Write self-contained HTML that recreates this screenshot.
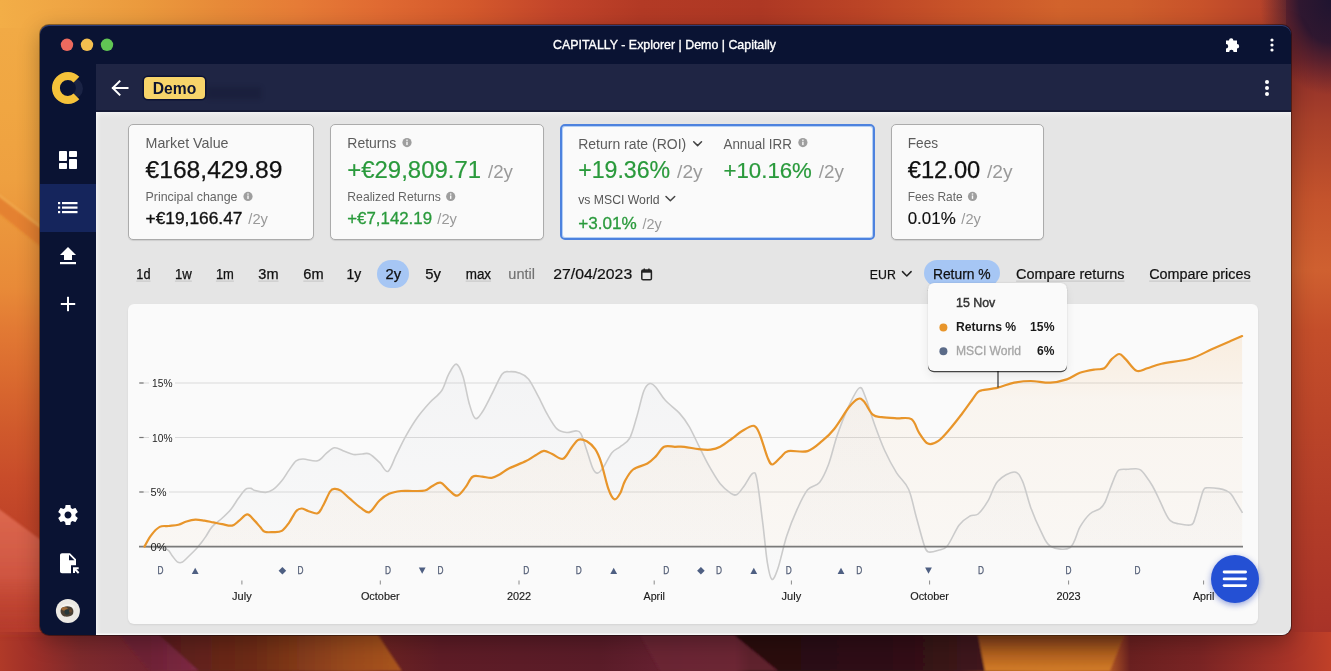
<!DOCTYPE html>
<html><head><meta charset="utf-8"><title>Capitally</title>
<style>
*{margin:0;padding:0;box-sizing:border-box}
html,body{width:1331px;height:671px;overflow:hidden}
body{position:relative;font-family:"Liberation Sans", sans-serif;background:#c04a2a}
.abs{position:absolute}
#bgtop{left:0;top:0;width:1331px;height:30px;background:linear-gradient(90deg,#f3ae47 0px,#eea343 80px,#eb9a3d 140px,#e78a38 220px,#e67b36 300px,#e06a32 380px,#d4592c 470px,#c2442a 560px,#b33a25 640px,#ae3824 760px,#bb4426 860px,#c95429 960px,#d2632c 1060px,#cf5f2c 1130px,#c8522a 1200px,#b8442a 1260px,#a83c2c 1331px)}
#bgleft{left:0;top:28px;width:45px;height:615px;background:linear-gradient(180deg,#f1aa45 0px,#f0a642 80px,#eea040 150px,#eb963c 200px,#e88a38 260px,#e27a34 300px,#da6a2f 350px,#d05a2c 400px,#c84c2a 450px,#c04428 490px,#bc4028 560px,#b63c2c 600px,#b23a2c 615px)}
#bgright{left:1286px;top:0;width:45px;height:671px;background:linear-gradient(180deg,#8a2c2a 0px,#8a2c2a 60px,#a8402a 120px,#c4532c 200px,#cf6030 270px,#c44e2a 330px,#bb4529 420px,#b23c28 520px,#aa3428 620px,#a03028 671px)}
#bgbot{left:0;top:632px;width:1331px;height:39px;background:linear-gradient(90deg,#b03a28 0px,#a03028 30px,#7e2a2c 80px,#722432 150px,#7a2840 175px,#5e1e1c 200px,#6a2a18 300px,#8a3c1a 360px,#6a2222 385px,#5e1c26 440px,#5a1c28 600px,#6a2234 690px,#6e2436 735px,#2e1012 750px,#34101a 880px,#451a1e 960px,#8a4a1c 985px,#c06a26 1050px,#a85024 1112px,#6a2020 1130px,#7a2424 1200px,#a83428 1290px,#c04028 1331px)}
#win{left:40px;top:25px;width:1251px;height:610px;border-radius:9px;overflow:hidden;background:#0a1333;box-shadow:0 0 0 1px rgba(0,0,0,.4),0 6px 22px rgba(0,0,0,.3),inset 0 1px 0 rgba(90,110,200,.45)}
#hdr{left:56px;top:39px;width:1195px;height:48px;background:#1f2544;border-bottom:2px solid #161b36}
#content{left:56px;top:87px;width:1195px;height:523px;background:linear-gradient(90deg,rgba(255,255,255,.55) 0,rgba(255,255,255,.25) 2px,rgba(255,255,255,0) 5px),linear-gradient(180deg,#f1f1f1 0,#e9e9e9 3px,#e5e5e5 7px);box-shadow:inset 0 -1.5px 0 rgba(255,255,255,.7)}
#sel{left:0;top:159px;width:56px;height:48px;background:#15255c}
.card{position:absolute;top:124px;height:116px;background:#fafafa;border:1px solid #ababab;border-radius:5px;box-shadow:0 1px 1px rgba(0,0,0,.10)}
#chart{left:128px;top:304px;width:1130px;height:320px;background:#fafafa;border-radius:6px;box-shadow:0 1px 2px rgba(0,0,0,.08)}
#pill2y{left:377px;top:259.5px;width:32px;height:28px;border-radius:16px;background:#a6c6f4}
#pillret{left:924px;top:260px;width:76px;height:26px;border-radius:13px;background:#a6c6f4}
#tip{left:928px;top:283px;width:139px;height:88px;background:#fafafa;border-radius:6px;box-shadow:0 1.2px 0.6px rgba(0,0,0,.7),0 0 2px rgba(0,0,0,.12),0 5px 10px rgba(0,0,0,.07)}
#fab{left:1211px;top:555px;width:48px;height:48px;border-radius:50%;background:#2450d4;box-shadow:0 2px 6px rgba(20,50,180,.45)}
#demo{left:144px;top:77px;width:61px;height:22px;border-radius:4px;background:#f7d46a;box-shadow:0 0 0 1.5px #0c1233}
#demoghost{left:207px;top:87px;width:54px;height:12px;background:rgba(10,14,40,.25);filter:blur(2px)}
svg{position:absolute;left:0;top:0}
</style></head>
<body>
<div class="abs" id="bgtop"></div>
<div class="abs" id="bgleft"></div>
<div class="abs" id="bgright"></div>
<div class="abs" id="bgbot"></div>
<svg width="1331" height="671" viewBox="0 0 1331 671" style="position:absolute;left:0;top:0">
<defs>
<linearGradient id="coral" x1="0" y1="510" x2="0" y2="640" gradientUnits="userSpaceOnUse"><stop offset="0" stop-color="#dc684e"/><stop offset="0.5" stop-color="#cf5642"/><stop offset="1" stop-color="#b63c30" stop-opacity="0"/></linearGradient>
<radialGradient id="tr" cx="1331" cy="0" r="95" gradientUnits="userSpaceOnUse" gradientTransform="translate(1331 0) scale(0.75 1) translate(-1331 0)"><stop offset="0" stop-color="#1f1430"/><stop offset="0.45" stop-color="#2a1630" stop-opacity="0.95"/><stop offset="1" stop-color="#4a1c2e" stop-opacity="0"/></radialGradient>
<linearGradient id="wA" x1="159" y1="0" x2="400" y2="0" gradientUnits="userSpaceOnUse"><stop offset="0" stop-color="#5a1c1c"/><stop offset="0.4" stop-color="#6e2c18"/><stop offset="0.8" stop-color="#9a4a1c"/><stop offset="1" stop-color="#a85420"/></linearGradient>
<linearGradient id="wC" x1="0" y1="635" x2="0" y2="671" gradientUnits="userSpaceOnUse"><stop offset="0" stop-color="#7a3a18"/><stop offset="0.5" stop-color="#b0601f"/><stop offset="1" stop-color="#d27c28"/></linearGradient>
<linearGradient id="wB" x1="734" y1="0" x2="985" y2="0" gradientUnits="userSpaceOnUse"><stop offset="0" stop-color="#2a0c10"/><stop offset="0.6" stop-color="#2e0f14"/><stop offset="1" stop-color="#40161c"/></linearGradient>
<linearGradient id="wD" x1="150" y1="0" x2="200" y2="0" gradientUnits="userSpaceOnUse"><stop offset="0" stop-color="#6e2236"/><stop offset="1" stop-color="#7e2a44"/></linearGradient>
<filter id="bl1" x="-20%" y="-20%" width="140%" height="140%"><feGaussianBlur stdDeviation="1.2"/></filter>
</defs>
<g filter="url(#bl1)">
<polygon points="-5,506 45,543 45,640 -5,640" fill="url(#coral)"/>
<polygon points="-5,194 45,232 45,250 -5,210" fill="#e27a2c" opacity="0.75"/>
<line x1="-5" y1="192" x2="45" y2="230" stroke="#f5b45a" stroke-width="1.6" opacity="0.6"/>
</g>
<g filter="url(#bl1)">
<polygon points="120,635 159,635 199,671 150,671" fill="url(#wD)"/>
<polygon points="159,635 378,635 402,671 199,671" fill="url(#wA)"/>
<polygon points="734,635 978,635 985,671 778,671" fill="url(#wB)"/>
<polygon points="640,635 734,635 778,671 660,671" fill="#6c2436" opacity="0.8"/>
<polygon points="978,635 1124,635 1110,671 985,671" fill="url(#wC)"/>
</g>
<rect x="1180" y="0" width="151" height="140" fill="url(#tr)"/>
</svg>
<div class="abs" id="win">
  <div class="abs" id="hdr"></div>
  <div class="abs" id="content"></div>
  <div class="abs" id="sel"></div>
</div>
<div class="abs" id="demoghost"></div>
<div class="abs" id="demo"></div>
<div class="card" style="left:128px;width:186px"></div>
<div class="card" style="left:330px;width:214px"></div>
<div class="card" style="left:560px;width:315px;border:2px solid #4d82de;box-shadow:inset 0 0 0 1px #b3cff5"></div>
<div class="card" style="left:891px;width:153px"></div>
<div class="abs" id="pill2y"></div>
<div class="abs" id="pillret"></div>
<div class="abs" id="chart"></div>
<svg width="1331" height="671" viewBox="0 0 1331 671" font-family="Liberation Sans, sans-serif">

<defs>
<linearGradient id="og" x1="0" y1="336" x2="0" y2="547" gradientUnits="userSpaceOnUse">
<stop offset="0" stop-color="#f0a040" stop-opacity="0.14"/><stop offset="0.2" stop-color="#f0a040" stop-opacity="0.095"/><stop offset="0.3" stop-color="#f0a040" stop-opacity="0.058"/><stop offset="1" stop-color="#f0a040" stop-opacity="0.035"/></linearGradient>
<linearGradient id="gg" x1="0" y1="364" x2="0" y2="580" gradientUnits="userSpaceOnUse">
<stop offset="0" stop-color="#b8bcc8" stop-opacity="0.10"/><stop offset="1" stop-color="#b8bcc8" stop-opacity="0.02"/></linearGradient>
</defs>
<g stroke="#dadada" stroke-width="1.1">
<line x1="139" y1="383" x2="1243" y2="383"/>
<line x1="139" y1="437.5" x2="1243" y2="437.5"/>
<line x1="139" y1="492" x2="1243" y2="492"/>
</g>
<path d="M144.5,546.6 C146.4,546.8 152.2,547.1 156.0,547.6 C159.8,548.1 164.8,548.5 167.5,549.8 C170.2,551.1 170.4,553.5 172.0,555.5 C173.6,557.5 175.6,560.7 177.3,561.8 C179.0,562.9 180.2,563.1 182.0,562.3 C183.8,561.5 185.7,559.2 188.0,557.0 C190.3,554.8 194.0,551.2 196.1,549.0 C198.2,546.8 199.0,545.7 200.6,543.6 C202.2,541.5 204.0,539.2 205.9,536.4 C207.8,533.6 209.5,529.7 212.2,526.6 C214.9,523.5 219.1,520.9 222.3,518.0 C225.5,515.1 228.5,512.3 231.2,509.0 C233.9,505.7 236.0,501.6 238.4,498.3 C240.8,495.0 243.4,491.0 245.5,489.3 C247.6,487.6 249.3,488.2 250.9,488.4 C252.5,488.6 252.5,489.9 255.0,490.6 C257.5,491.3 262.7,492.5 265.7,492.4 C268.7,492.2 270.2,491.6 272.9,489.7 C275.6,487.8 279.1,484.1 281.8,480.8 C284.5,477.5 286.6,473.4 289.0,470.1 C291.4,466.8 293.7,462.7 296.1,460.8 C298.5,458.9 299.7,459.0 303.3,459.0 C306.9,459.0 313.7,461.8 317.6,460.8 C321.5,459.8 323.7,455.3 326.5,453.1 C329.3,450.9 331.6,448.0 334.6,447.7 C337.6,447.4 341.3,450.2 344.4,451.3 C347.5,452.4 350.4,454.1 353.4,454.5 C356.4,454.9 359.6,454.1 362.3,454.0 C365.0,453.9 366.6,452.6 369.5,454.0 C372.4,455.4 376.4,459.5 379.5,462.4 C382.6,465.3 385.1,472.6 387.9,471.4 C390.7,470.2 393.2,461.1 396.2,455.2 C399.2,449.3 402.2,442.5 405.8,436.1 C409.4,429.7 413.7,422.6 417.7,417.0 C421.7,411.4 425.6,407.1 429.6,402.7 C433.6,398.3 438.4,395.6 441.6,390.8 C444.8,386.0 446.2,378.6 448.7,374.1 C451.1,369.7 453.9,363.7 456.3,364.1 C458.7,364.5 460.9,370.1 463.0,376.5 C465.1,382.9 467.0,395.8 469.0,402.7 C471.0,409.6 472.8,416.6 475.0,418.2 C477.2,419.8 479.3,416.3 482.1,412.3 C484.9,408.3 488.4,400.8 491.7,394.4 C495.0,388.0 499.3,377.9 502.2,374.1 C505.1,370.3 506.5,371.9 509.3,371.7 C512.1,371.5 515.7,371.7 518.9,372.9 C522.1,374.1 525.2,375.1 528.4,378.9 C531.6,382.7 534.7,389.7 537.9,395.6 C541.1,401.6 544.3,409.1 547.5,414.6 C550.7,420.2 553.8,425.9 557.0,428.9 C560.2,431.9 563.4,432.2 566.6,432.5 C569.8,432.8 573.7,430.7 576.1,430.9 C578.5,431.1 579.1,430.4 580.9,433.7 C582.7,436.9 584.8,444.6 586.8,450.4 C588.8,456.2 591.0,464.5 592.8,468.3 C594.6,472.1 595.8,473.3 597.6,473.1 C599.4,472.9 601.1,470.5 603.5,467.1 C605.9,463.7 609.1,456.2 611.9,452.8 C614.6,449.4 617.1,449.2 620.0,446.8 C622.9,444.4 626.7,443.5 629.5,438.5 C632.3,433.5 634.3,424.9 636.7,417.0 C639.1,409.1 641.7,396.4 643.9,390.8 C646.1,385.2 647.8,384.2 649.8,383.6 C651.8,383.0 653.2,384.4 655.8,387.2 C658.4,390.0 661.3,395.9 665.3,400.3 C669.3,404.7 675.6,409.0 679.6,413.4 C683.6,417.8 686.0,421.2 689.2,426.6 C692.4,432.0 695.5,439.2 698.7,445.6 C701.9,452.0 704.7,458.3 708.3,464.7 C711.9,471.1 716.4,479.0 720.2,483.8 C724.0,488.6 728.1,491.5 730.9,493.3 C733.7,495.1 734.7,495.7 736.9,494.5 C739.1,493.3 741.4,489.7 744.0,486.2 C746.6,482.7 750.4,474.6 752.5,473.5 C754.6,472.4 755.2,471.0 756.9,479.4 C758.6,487.8 761.1,510.2 762.9,524.1 C764.6,538.0 765.9,553.7 767.4,562.9 C768.9,572.1 770.1,578.3 771.8,579.3 C773.5,580.3 775.3,576.0 777.8,568.8 C780.3,561.6 783.5,545.9 786.7,536.0 C789.9,526.1 793.7,516.9 797.2,509.2 C800.7,501.5 803.9,494.3 807.6,489.8 C811.3,485.3 816.0,486.6 819.5,482.4 C823.0,478.2 825.5,472.4 828.5,464.5 C831.5,456.6 834.0,444.5 837.4,434.7 C840.8,424.9 845.2,413.6 848.9,405.8 C852.6,398.0 856.7,389.4 859.4,387.9 C862.1,386.4 862.8,390.8 865.3,396.8 C867.8,402.8 871.1,414.8 874.3,423.7 C877.5,432.6 881.0,442.3 884.7,450.5 C888.4,458.7 892.6,466.4 896.6,472.8 C900.6,479.2 905.4,482.0 908.6,489.2 C911.8,496.4 913.5,507.1 916.0,516.0 C918.5,525.0 921.5,536.9 923.5,542.9 C925.5,548.9 925.4,550.6 927.9,551.8 C930.4,553.0 935.2,551.3 938.4,550.3 C941.6,549.3 943.8,550.1 947.3,545.9 C950.8,541.7 955.4,530.0 959.2,525.0 C963.0,520.0 966.9,517.8 970.0,516.0 C973.1,514.2 975.1,516.5 978.1,514.0 C981.1,511.5 984.7,506.4 988.0,500.9 C991.3,495.4 993.4,486.0 997.8,481.2 C1002.2,476.4 1010.1,472.0 1014.2,472.0 C1018.3,472.0 1019.8,475.3 1022.5,481.2 C1025.2,487.1 1027.7,499.2 1030.7,507.4 C1033.7,515.6 1037.2,523.9 1040.5,530.4 C1043.8,536.9 1045.5,543.4 1050.4,546.2 C1055.3,549.1 1065.2,550.7 1070.1,547.5 C1075.0,544.3 1076.6,532.7 1079.9,527.1 C1083.2,521.5 1086.5,517.1 1089.8,514.0 C1093.1,510.9 1097.5,510.6 1100.0,508.7 C1102.5,506.8 1103.0,506.3 1104.8,502.7 C1106.6,499.1 1108.9,491.8 1110.7,487.2 C1112.5,482.6 1114.1,478.2 1115.5,475.3 C1116.9,472.4 1117.1,470.9 1119.1,469.9 C1121.1,468.9 1124.6,469.5 1127.4,469.3 C1130.2,469.1 1133.6,468.6 1135.8,468.7 C1138.0,468.8 1138.9,468.8 1140.5,469.9 C1142.1,471.0 1143.3,472.6 1145.3,475.3 C1147.3,478.0 1150.1,481.8 1152.5,486.0 C1154.9,490.2 1157.4,495.7 1159.6,500.3 C1161.8,504.9 1163.8,510.0 1165.6,513.4 C1167.4,516.8 1168.3,518.9 1170.3,520.6 C1172.3,522.3 1174.0,522.9 1177.5,523.6 C1181.0,524.3 1188.2,525.9 1191.2,524.8 C1194.2,523.7 1193.9,521.1 1195.4,517.0 C1196.9,512.9 1198.8,504.9 1200.2,500.3 C1201.6,495.7 1202.5,491.7 1203.7,489.6 C1204.9,487.5 1204.7,488.0 1207.3,487.8 C1209.9,487.6 1216.0,488.1 1219.2,488.6 C1222.4,489.1 1224.4,489.9 1226.4,490.8 C1228.4,491.8 1229.4,492.1 1231.2,494.3 C1233.0,496.5 1235.2,500.8 1237.1,503.9 C1239.0,507.0 1241.6,511.3 1242.5,512.8 L1242.1,546.5 L144.5,546.5 Z" fill="url(#gg)"/>
<path d="M144.5,546.6 C145.5,544.8 148.2,539.1 150.7,535.8 C153.2,532.5 156.7,528.5 159.7,526.9 C162.7,525.3 165.5,526.4 168.6,526.0 C171.7,525.6 175.4,525.5 178.4,524.7 C181.4,524.0 183.7,522.3 186.5,521.5 C189.3,520.7 192.4,519.9 195.4,519.7 C198.4,519.6 201.4,520.2 204.4,520.6 C207.4,521.0 210.3,521.8 213.3,522.4 C216.3,523.0 219.2,523.7 222.3,524.2 C225.4,524.7 229.3,526.2 232.1,525.6 C234.9,525.0 236.7,522.5 239.2,520.6 C241.7,518.7 244.8,514.4 247.3,514.4 C249.9,514.4 252.3,518.5 254.5,520.6 C256.7,522.8 258.7,525.4 260.4,527.3 C262.1,529.2 262.7,531.0 264.8,531.8 C266.9,532.6 270.1,532.2 272.9,532.1 C275.7,532.0 279.1,532.5 281.8,530.9 C284.5,529.3 286.6,526.1 289.0,522.8 C291.4,519.5 294.0,513.6 296.1,511.2 C298.2,508.8 299.4,508.5 301.5,508.5 C303.6,508.5 305.9,510.4 308.6,511.2 C311.3,512.0 315.2,514.2 317.6,513.3 C320.0,512.4 320.9,509.4 323.0,505.8 C325.1,502.2 328.2,494.3 330.1,491.5 C332.0,488.7 332.8,488.9 334.6,488.8 C336.4,488.7 338.3,489.0 340.8,490.6 C343.3,492.2 346.5,495.9 349.8,498.7 C353.1,501.5 357.2,505.4 360.5,507.6 C363.8,509.8 366.3,513.3 369.5,512.1 C372.7,510.9 376.2,503.6 379.5,500.5 C382.8,497.4 385.5,495.4 389.1,493.8 C392.7,492.2 397.0,491.5 401.0,491.0 C405.0,490.5 408.9,491.1 412.9,491.0 C416.9,490.9 421.7,491.3 424.9,490.5 C428.1,489.7 429.4,487.5 432.0,486.2 C434.6,484.9 437.6,482.0 440.4,482.6 C443.2,483.2 445.9,487.6 448.7,489.8 C451.5,492.0 454.3,496.1 457.1,495.7 C459.9,495.3 462.8,490.6 465.4,487.4 C468.0,484.2 469.8,478.5 472.6,476.7 C475.4,474.9 478.9,476.5 482.1,476.7 C485.3,476.9 488.7,478.2 491.7,477.8 C494.7,477.4 497.1,475.9 500.0,474.3 C502.9,472.7 505.0,470.5 509.3,468.3 C513.6,466.1 521.6,463.3 526.0,461.1 C530.4,458.9 532.6,456.9 535.6,455.2 C538.6,453.5 541.1,451.1 543.9,450.9 C546.7,450.7 549.0,452.7 552.2,454.0 C555.4,455.3 559.8,459.8 563.0,458.8 C566.2,457.8 568.7,451.2 571.3,448.0 C573.9,444.8 575.9,440.8 578.5,439.7 C581.1,438.6 584.0,439.7 586.8,441.3 C589.6,442.9 592.8,445.7 595.2,449.2 C597.6,452.7 598.9,455.7 601.1,462.3 C603.3,468.9 606.1,482.4 608.3,488.6 C610.5,494.8 612.3,498.5 614.3,499.3 C616.3,500.1 618.5,496.3 620.2,493.3 C622.0,490.3 622.6,485.4 624.8,481.4 C626.9,477.4 629.3,472.5 633.1,469.5 C636.9,466.5 643.6,465.7 647.4,463.5 C651.2,461.3 653.0,459.2 655.8,456.4 C658.6,453.6 660.9,448.4 664.1,446.8 C667.3,445.2 671.5,446.8 674.9,446.8 C678.3,446.8 680.4,446.4 684.4,446.8 C688.4,447.2 694.3,448.7 698.7,449.2 C703.1,449.7 707.0,450.1 710.6,449.7 C714.2,449.3 716.6,448.7 720.2,446.8 C723.8,444.9 728.5,441.1 732.1,438.5 C735.7,435.9 738.1,433.4 741.7,431.3 C745.3,429.2 750.9,425.2 753.9,425.8 C756.9,426.4 757.6,429.5 759.9,434.7 C762.1,439.9 765.3,452.1 767.4,457.1 C769.5,462.1 770.2,464.5 772.4,464.5 C774.6,464.5 778.2,459.3 780.8,457.1 C783.4,454.9 783.7,452.1 788.2,451.1 C792.7,450.1 801.9,452.8 807.6,451.1 C813.3,449.4 818.0,444.4 822.5,440.7 C827.0,437.0 830.0,434.3 834.4,428.7 C838.8,423.1 845.0,412.3 848.9,407.3 C852.8,402.3 855.4,399.9 857.9,398.9 C860.4,397.9 861.3,398.7 863.8,401.3 C866.3,403.9 869.8,412.1 872.8,414.7 C875.8,417.3 877.7,416.5 881.7,417.1 C885.7,417.7 891.6,418.0 896.6,418.3 C901.6,418.6 907.8,416.8 911.5,419.2 C915.2,421.6 916.3,428.5 919.0,432.6 C921.7,436.7 924.7,442.2 927.9,443.6 C931.1,445.0 934.7,443.4 938.4,440.9 C942.1,438.4 946.3,433.1 950.3,428.5 C954.3,423.9 958.6,418.2 962.2,413.5 C965.8,408.8 969.5,403.5 972.0,400.0 C974.5,396.5 975.8,394.1 977.5,392.5 C979.2,390.9 978.6,391.1 982.0,390.3 C985.4,389.5 992.4,388.9 997.8,387.6 C1003.2,386.3 1008.7,383.8 1014.2,382.7 C1019.7,381.6 1024.7,381.0 1030.7,381.0 C1036.7,381.0 1044.4,383.0 1050.4,382.7 C1056.4,382.4 1061.9,381.0 1066.8,379.4 C1071.7,377.8 1075.2,374.4 1079.9,372.8 C1084.6,371.2 1090.9,370.2 1095.0,369.5 C1099.1,368.8 1101.5,370.0 1104.3,368.3 C1107.0,366.6 1109.0,361.8 1111.5,359.4 C1114.0,357.0 1116.9,354.0 1119.3,354.0 C1121.7,354.0 1122.9,356.6 1125.8,359.4 C1128.7,362.2 1132.9,369.3 1136.5,370.8 C1140.1,372.3 1143.1,369.5 1147.3,368.3 C1151.5,367.1 1154.4,365.3 1161.6,363.7 C1168.8,362.1 1181.8,361.1 1190.2,358.7 C1198.6,356.3 1205.1,352.2 1211.7,349.3 C1218.3,346.4 1224.5,343.7 1229.6,341.5 C1234.7,339.3 1240.0,337.0 1242.1,336.1 L1242.1,546.5 L144.5,546.5 Z" fill="url(#og)"/>
<path d="M144.5,546.6 C146.4,546.8 152.2,547.1 156.0,547.6 C159.8,548.1 164.8,548.5 167.5,549.8 C170.2,551.1 170.4,553.5 172.0,555.5 C173.6,557.5 175.6,560.7 177.3,561.8 C179.0,562.9 180.2,563.1 182.0,562.3 C183.8,561.5 185.7,559.2 188.0,557.0 C190.3,554.8 194.0,551.2 196.1,549.0 C198.2,546.8 199.0,545.7 200.6,543.6 C202.2,541.5 204.0,539.2 205.9,536.4 C207.8,533.6 209.5,529.7 212.2,526.6 C214.9,523.5 219.1,520.9 222.3,518.0 C225.5,515.1 228.5,512.3 231.2,509.0 C233.9,505.7 236.0,501.6 238.4,498.3 C240.8,495.0 243.4,491.0 245.5,489.3 C247.6,487.6 249.3,488.2 250.9,488.4 C252.5,488.6 252.5,489.9 255.0,490.6 C257.5,491.3 262.7,492.5 265.7,492.4 C268.7,492.2 270.2,491.6 272.9,489.7 C275.6,487.8 279.1,484.1 281.8,480.8 C284.5,477.5 286.6,473.4 289.0,470.1 C291.4,466.8 293.7,462.7 296.1,460.8 C298.5,458.9 299.7,459.0 303.3,459.0 C306.9,459.0 313.7,461.8 317.6,460.8 C321.5,459.8 323.7,455.3 326.5,453.1 C329.3,450.9 331.6,448.0 334.6,447.7 C337.6,447.4 341.3,450.2 344.4,451.3 C347.5,452.4 350.4,454.1 353.4,454.5 C356.4,454.9 359.6,454.1 362.3,454.0 C365.0,453.9 366.6,452.6 369.5,454.0 C372.4,455.4 376.4,459.5 379.5,462.4 C382.6,465.3 385.1,472.6 387.9,471.4 C390.7,470.2 393.2,461.1 396.2,455.2 C399.2,449.3 402.2,442.5 405.8,436.1 C409.4,429.7 413.7,422.6 417.7,417.0 C421.7,411.4 425.6,407.1 429.6,402.7 C433.6,398.3 438.4,395.6 441.6,390.8 C444.8,386.0 446.2,378.6 448.7,374.1 C451.1,369.7 453.9,363.7 456.3,364.1 C458.7,364.5 460.9,370.1 463.0,376.5 C465.1,382.9 467.0,395.8 469.0,402.7 C471.0,409.6 472.8,416.6 475.0,418.2 C477.2,419.8 479.3,416.3 482.1,412.3 C484.9,408.3 488.4,400.8 491.7,394.4 C495.0,388.0 499.3,377.9 502.2,374.1 C505.1,370.3 506.5,371.9 509.3,371.7 C512.1,371.5 515.7,371.7 518.9,372.9 C522.1,374.1 525.2,375.1 528.4,378.9 C531.6,382.7 534.7,389.7 537.9,395.6 C541.1,401.6 544.3,409.1 547.5,414.6 C550.7,420.2 553.8,425.9 557.0,428.9 C560.2,431.9 563.4,432.2 566.6,432.5 C569.8,432.8 573.7,430.7 576.1,430.9 C578.5,431.1 579.1,430.4 580.9,433.7 C582.7,436.9 584.8,444.6 586.8,450.4 C588.8,456.2 591.0,464.5 592.8,468.3 C594.6,472.1 595.8,473.3 597.6,473.1 C599.4,472.9 601.1,470.5 603.5,467.1 C605.9,463.7 609.1,456.2 611.9,452.8 C614.6,449.4 617.1,449.2 620.0,446.8 C622.9,444.4 626.7,443.5 629.5,438.5 C632.3,433.5 634.3,424.9 636.7,417.0 C639.1,409.1 641.7,396.4 643.9,390.8 C646.1,385.2 647.8,384.2 649.8,383.6 C651.8,383.0 653.2,384.4 655.8,387.2 C658.4,390.0 661.3,395.9 665.3,400.3 C669.3,404.7 675.6,409.0 679.6,413.4 C683.6,417.8 686.0,421.2 689.2,426.6 C692.4,432.0 695.5,439.2 698.7,445.6 C701.9,452.0 704.7,458.3 708.3,464.7 C711.9,471.1 716.4,479.0 720.2,483.8 C724.0,488.6 728.1,491.5 730.9,493.3 C733.7,495.1 734.7,495.7 736.9,494.5 C739.1,493.3 741.4,489.7 744.0,486.2 C746.6,482.7 750.4,474.6 752.5,473.5 C754.6,472.4 755.2,471.0 756.9,479.4 C758.6,487.8 761.1,510.2 762.9,524.1 C764.6,538.0 765.9,553.7 767.4,562.9 C768.9,572.1 770.1,578.3 771.8,579.3 C773.5,580.3 775.3,576.0 777.8,568.8 C780.3,561.6 783.5,545.9 786.7,536.0 C789.9,526.1 793.7,516.9 797.2,509.2 C800.7,501.5 803.9,494.3 807.6,489.8 C811.3,485.3 816.0,486.6 819.5,482.4 C823.0,478.2 825.5,472.4 828.5,464.5 C831.5,456.6 834.0,444.5 837.4,434.7 C840.8,424.9 845.2,413.6 848.9,405.8 C852.6,398.0 856.7,389.4 859.4,387.9 C862.1,386.4 862.8,390.8 865.3,396.8 C867.8,402.8 871.1,414.8 874.3,423.7 C877.5,432.6 881.0,442.3 884.7,450.5 C888.4,458.7 892.6,466.4 896.6,472.8 C900.6,479.2 905.4,482.0 908.6,489.2 C911.8,496.4 913.5,507.1 916.0,516.0 C918.5,525.0 921.5,536.9 923.5,542.9 C925.5,548.9 925.4,550.6 927.9,551.8 C930.4,553.0 935.2,551.3 938.4,550.3 C941.6,549.3 943.8,550.1 947.3,545.9 C950.8,541.7 955.4,530.0 959.2,525.0 C963.0,520.0 966.9,517.8 970.0,516.0 C973.1,514.2 975.1,516.5 978.1,514.0 C981.1,511.5 984.7,506.4 988.0,500.9 C991.3,495.4 993.4,486.0 997.8,481.2 C1002.2,476.4 1010.1,472.0 1014.2,472.0 C1018.3,472.0 1019.8,475.3 1022.5,481.2 C1025.2,487.1 1027.7,499.2 1030.7,507.4 C1033.7,515.6 1037.2,523.9 1040.5,530.4 C1043.8,536.9 1045.5,543.4 1050.4,546.2 C1055.3,549.1 1065.2,550.7 1070.1,547.5 C1075.0,544.3 1076.6,532.7 1079.9,527.1 C1083.2,521.5 1086.5,517.1 1089.8,514.0 C1093.1,510.9 1097.5,510.6 1100.0,508.7 C1102.5,506.8 1103.0,506.3 1104.8,502.7 C1106.6,499.1 1108.9,491.8 1110.7,487.2 C1112.5,482.6 1114.1,478.2 1115.5,475.3 C1116.9,472.4 1117.1,470.9 1119.1,469.9 C1121.1,468.9 1124.6,469.5 1127.4,469.3 C1130.2,469.1 1133.6,468.6 1135.8,468.7 C1138.0,468.8 1138.9,468.8 1140.5,469.9 C1142.1,471.0 1143.3,472.6 1145.3,475.3 C1147.3,478.0 1150.1,481.8 1152.5,486.0 C1154.9,490.2 1157.4,495.7 1159.6,500.3 C1161.8,504.9 1163.8,510.0 1165.6,513.4 C1167.4,516.8 1168.3,518.9 1170.3,520.6 C1172.3,522.3 1174.0,522.9 1177.5,523.6 C1181.0,524.3 1188.2,525.9 1191.2,524.8 C1194.2,523.7 1193.9,521.1 1195.4,517.0 C1196.9,512.9 1198.8,504.9 1200.2,500.3 C1201.6,495.7 1202.5,491.7 1203.7,489.6 C1204.9,487.5 1204.7,488.0 1207.3,487.8 C1209.9,487.6 1216.0,488.1 1219.2,488.6 C1222.4,489.1 1224.4,489.9 1226.4,490.8 C1228.4,491.8 1229.4,492.1 1231.2,494.3 C1233.0,496.5 1235.2,500.8 1237.1,503.9 C1239.0,507.0 1241.6,511.3 1242.5,512.8" fill="none" stroke="#cbcbcb" stroke-width="1.6" stroke-linejoin="round"/>
<line x1="139" y1="546.6" x2="1243" y2="546.6" stroke="#7a7a7a" stroke-width="1.6"/>
<path d="M144.5,546.6 C145.5,544.8 148.2,539.1 150.7,535.8 C153.2,532.5 156.7,528.5 159.7,526.9 C162.7,525.3 165.5,526.4 168.6,526.0 C171.7,525.6 175.4,525.5 178.4,524.7 C181.4,524.0 183.7,522.3 186.5,521.5 C189.3,520.7 192.4,519.9 195.4,519.7 C198.4,519.6 201.4,520.2 204.4,520.6 C207.4,521.0 210.3,521.8 213.3,522.4 C216.3,523.0 219.2,523.7 222.3,524.2 C225.4,524.7 229.3,526.2 232.1,525.6 C234.9,525.0 236.7,522.5 239.2,520.6 C241.7,518.7 244.8,514.4 247.3,514.4 C249.9,514.4 252.3,518.5 254.5,520.6 C256.7,522.8 258.7,525.4 260.4,527.3 C262.1,529.2 262.7,531.0 264.8,531.8 C266.9,532.6 270.1,532.2 272.9,532.1 C275.7,532.0 279.1,532.5 281.8,530.9 C284.5,529.3 286.6,526.1 289.0,522.8 C291.4,519.5 294.0,513.6 296.1,511.2 C298.2,508.8 299.4,508.5 301.5,508.5 C303.6,508.5 305.9,510.4 308.6,511.2 C311.3,512.0 315.2,514.2 317.6,513.3 C320.0,512.4 320.9,509.4 323.0,505.8 C325.1,502.2 328.2,494.3 330.1,491.5 C332.0,488.7 332.8,488.9 334.6,488.8 C336.4,488.7 338.3,489.0 340.8,490.6 C343.3,492.2 346.5,495.9 349.8,498.7 C353.1,501.5 357.2,505.4 360.5,507.6 C363.8,509.8 366.3,513.3 369.5,512.1 C372.7,510.9 376.2,503.6 379.5,500.5 C382.8,497.4 385.5,495.4 389.1,493.8 C392.7,492.2 397.0,491.5 401.0,491.0 C405.0,490.5 408.9,491.1 412.9,491.0 C416.9,490.9 421.7,491.3 424.9,490.5 C428.1,489.7 429.4,487.5 432.0,486.2 C434.6,484.9 437.6,482.0 440.4,482.6 C443.2,483.2 445.9,487.6 448.7,489.8 C451.5,492.0 454.3,496.1 457.1,495.7 C459.9,495.3 462.8,490.6 465.4,487.4 C468.0,484.2 469.8,478.5 472.6,476.7 C475.4,474.9 478.9,476.5 482.1,476.7 C485.3,476.9 488.7,478.2 491.7,477.8 C494.7,477.4 497.1,475.9 500.0,474.3 C502.9,472.7 505.0,470.5 509.3,468.3 C513.6,466.1 521.6,463.3 526.0,461.1 C530.4,458.9 532.6,456.9 535.6,455.2 C538.6,453.5 541.1,451.1 543.9,450.9 C546.7,450.7 549.0,452.7 552.2,454.0 C555.4,455.3 559.8,459.8 563.0,458.8 C566.2,457.8 568.7,451.2 571.3,448.0 C573.9,444.8 575.9,440.8 578.5,439.7 C581.1,438.6 584.0,439.7 586.8,441.3 C589.6,442.9 592.8,445.7 595.2,449.2 C597.6,452.7 598.9,455.7 601.1,462.3 C603.3,468.9 606.1,482.4 608.3,488.6 C610.5,494.8 612.3,498.5 614.3,499.3 C616.3,500.1 618.5,496.3 620.2,493.3 C622.0,490.3 622.6,485.4 624.8,481.4 C626.9,477.4 629.3,472.5 633.1,469.5 C636.9,466.5 643.6,465.7 647.4,463.5 C651.2,461.3 653.0,459.2 655.8,456.4 C658.6,453.6 660.9,448.4 664.1,446.8 C667.3,445.2 671.5,446.8 674.9,446.8 C678.3,446.8 680.4,446.4 684.4,446.8 C688.4,447.2 694.3,448.7 698.7,449.2 C703.1,449.7 707.0,450.1 710.6,449.7 C714.2,449.3 716.6,448.7 720.2,446.8 C723.8,444.9 728.5,441.1 732.1,438.5 C735.7,435.9 738.1,433.4 741.7,431.3 C745.3,429.2 750.9,425.2 753.9,425.8 C756.9,426.4 757.6,429.5 759.9,434.7 C762.1,439.9 765.3,452.1 767.4,457.1 C769.5,462.1 770.2,464.5 772.4,464.5 C774.6,464.5 778.2,459.3 780.8,457.1 C783.4,454.9 783.7,452.1 788.2,451.1 C792.7,450.1 801.9,452.8 807.6,451.1 C813.3,449.4 818.0,444.4 822.5,440.7 C827.0,437.0 830.0,434.3 834.4,428.7 C838.8,423.1 845.0,412.3 848.9,407.3 C852.8,402.3 855.4,399.9 857.9,398.9 C860.4,397.9 861.3,398.7 863.8,401.3 C866.3,403.9 869.8,412.1 872.8,414.7 C875.8,417.3 877.7,416.5 881.7,417.1 C885.7,417.7 891.6,418.0 896.6,418.3 C901.6,418.6 907.8,416.8 911.5,419.2 C915.2,421.6 916.3,428.5 919.0,432.6 C921.7,436.7 924.7,442.2 927.9,443.6 C931.1,445.0 934.7,443.4 938.4,440.9 C942.1,438.4 946.3,433.1 950.3,428.5 C954.3,423.9 958.6,418.2 962.2,413.5 C965.8,408.8 969.5,403.5 972.0,400.0 C974.5,396.5 975.8,394.1 977.5,392.5 C979.2,390.9 978.6,391.1 982.0,390.3 C985.4,389.5 992.4,388.9 997.8,387.6 C1003.2,386.3 1008.7,383.8 1014.2,382.7 C1019.7,381.6 1024.7,381.0 1030.7,381.0 C1036.7,381.0 1044.4,383.0 1050.4,382.7 C1056.4,382.4 1061.9,381.0 1066.8,379.4 C1071.7,377.8 1075.2,374.4 1079.9,372.8 C1084.6,371.2 1090.9,370.2 1095.0,369.5 C1099.1,368.8 1101.5,370.0 1104.3,368.3 C1107.0,366.6 1109.0,361.8 1111.5,359.4 C1114.0,357.0 1116.9,354.0 1119.3,354.0 C1121.7,354.0 1122.9,356.6 1125.8,359.4 C1128.7,362.2 1132.9,369.3 1136.5,370.8 C1140.1,372.3 1143.1,369.5 1147.3,368.3 C1151.5,367.1 1154.4,365.3 1161.6,363.7 C1168.8,362.1 1181.8,361.1 1190.2,358.7 C1198.6,356.3 1205.1,352.2 1211.7,349.3 C1218.3,346.4 1224.5,343.7 1229.6,341.5 C1234.7,339.3 1240.0,337.0 1242.1,336.1" fill="none" stroke="#e8952a" stroke-width="2.2" stroke-linejoin="round" stroke-linecap="round"/>
<g fill="#fafafa"><rect x="149" y="377" width="26" height="12"/><rect x="149" y="431.5" width="26" height="12"/><rect x="149" y="486" width="20" height="12"/></g>
<g stroke="#777" stroke-width="1.2"><line x1="139.3" y1="383" x2="143.6" y2="383"/><line x1="139.3" y1="437.5" x2="143.6" y2="437.5"/><line x1="139.3" y1="492" x2="143.6" y2="492"/></g>
<line x1="998" y1="371" x2="998" y2="387.5" stroke="#333" stroke-width="1.2"/>
<rect x="136.3" y="280.6" width="14.2" height="1" fill="#c4c4c4"/><rect x="174.9" y="280.6" width="16.9" height="1" fill="#c4c4c4"/><rect x="215.9" y="280.6" width="18" height="1" fill="#c4c4c4"/><rect x="258.3" y="280.6" width="20.2" height="1" fill="#c4c4c4"/><rect x="303.3" y="280.6" width="20.3" height="1" fill="#c4c4c4"/><rect x="465.7" y="280.6" width="25.4" height="1" fill="#c4c4c4"/><rect x="1016.1" y="280.6" width="108.4" height="1" fill="#c4c4c4"/><rect x="1149.2" y="280.6" width="101.4" height="1" fill="#c4c4c4"/><line x1="241.9" y1="580.5" x2="241.9" y2="584.5" stroke="#8a8a8a" stroke-width="1"/><line x1="380.3" y1="580.5" x2="380.3" y2="584.5" stroke="#8a8a8a" stroke-width="1"/><line x1="519" y1="580.5" x2="519" y2="584.5" stroke="#8a8a8a" stroke-width="1"/><line x1="654.2" y1="580.5" x2="654.2" y2="584.5" stroke="#8a8a8a" stroke-width="1"/><line x1="791.4" y1="580.5" x2="791.4" y2="584.5" stroke="#8a8a8a" stroke-width="1"/><line x1="929.6" y1="580.5" x2="929.6" y2="584.5" stroke="#8a8a8a" stroke-width="1"/><line x1="1068.6" y1="580.5" x2="1068.6" y2="584.5" stroke="#8a8a8a" stroke-width="1"/><line x1="1203.6" y1="580.5" x2="1203.6" y2="584.5" stroke="#8a8a8a" stroke-width="1"/>
<path d="M191.79999999999998,574 L198.6,574 L195.2,567.8 Z" fill="#4e5f82"/><path d="M610.3000000000001,574 L617.1,574 L613.7,567.8 Z" fill="#4e5f82"/><path d="M750.4,574 L757.1999999999999,574 L753.8,567.8 Z" fill="#4e5f82"/><path d="M837.6,574 L844.4,574 L841,567.8 Z" fill="#4e5f82"/><path d="M418.8,567.6 L425.59999999999997,567.6 L422.2,573.8 Z" fill="#4e5f82"/><path d="M925.1,567.6 L931.9,567.6 L928.5,573.8 Z" fill="#4e5f82"/><path d="M282.4,566.9 L286.2,570.7 L282.4,574.5 L278.59999999999997,570.7 Z" fill="#4e5f82"/><path d="M700.9,566.9 L704.6999999999999,570.7 L700.9,574.5 L697.1,570.7 Z" fill="#4e5f82"/>

</svg>
<div class="abs" id="tip"></div>
<div class="abs" id="fab"></div>
<svg width="1331" height="671" viewBox="0 0 1331 671" font-family="Liberation Sans, sans-serif">
<!-- traffic lights -->
<circle cx="67" cy="44.8" r="6.2" fill="#ed6a5e"/>
<circle cx="87" cy="44.8" r="6.2" fill="#f4bf4f"/>
<circle cx="107" cy="44.8" r="6.2" fill="#61c554"/>
<!-- logo -->
<circle cx="72.5" cy="88.5" r="10.5" fill="#1a2344"/>
<circle cx="68" cy="88" r="7.9" fill="#0a1333"/>
<path d="M79.3,76.7 A16,16 0 1 0 79.3,99.3 L73.6,93.6 A8,8 0 1 1 73.6,82.4 Z" fill="#f5c23a"/>
<!-- back arrow -->
<path d="M127.5,88 L113,88 M119.5,81.3 L112.8,88 L119.5,94.7" fill="none" stroke="#fff" stroke-width="2" stroke-linecap="square"/>
<!-- titlebar icons -->
<g fill="#fff">
<circle cx="1272" cy="40" r="1.6"/><circle cx="1272" cy="45" r="1.6"/><circle cx="1272" cy="50" r="1.6"/>
<circle cx="1267" cy="82" r="2"/><circle cx="1267" cy="88" r="2"/><circle cx="1267" cy="94" r="2"/>
<path d="M1226,40.5 h3 a2.2,2.2 0 1 1 4.4,0 h3.6 v3.6 a2.2,2.2 0 1 1 0,4.4 v3.4 h-3.4 a2.2,2.2 0 1 0 -4.4,0 h-3.2 v-3.4 a2.2,2.2 0 1 0 0,-4.4 z"/>
</g>
<!-- sidebar icons -->
<g fill="#fff">
<rect x="59" y="151" width="8" height="10" rx="0.8"/><rect x="59" y="163" width="8" height="6" rx="0.8"/><rect x="69" y="151" width="8" height="6" rx="0.8"/><rect x="69" y="159" width="8" height="10" rx="0.8"/>
<rect x="58" y="202" width="2.2" height="2.2"/><rect x="58" y="206.5" width="2.2" height="2.2"/><rect x="58" y="211" width="2.2" height="2.2"/>
<rect x="62" y="202" width="15.5" height="2.2"/><rect x="62" y="206.5" width="15.5" height="2.2"/><rect x="62" y="211" width="15.5" height="2.2"/>
<path d="M64,260 h8 v-5 h4 l-8,-8 l-8,8 h4 z"/><rect x="60" y="262" width="16" height="2.2"/>
<rect x="60.8" y="303" width="14.4" height="2"/><rect x="67" y="296.8" width="2" height="14.4"/>
<path transform="translate(56,503)" d="M19.43 12.98c.04-.32.07-.64.07-.98s-.03-.66-.07-.98l2.11-1.65c.19-.15.24-.42.12-.64l-2-3.46c-.12-.22-.39-.3-.61-.22l-2.49 1c-.52-.4-1.08-.73-1.69-.98l-.38-2.65C14.460 2.18 14.25 2 14 2h-4c-.25 0-.46.18-.49.42l-.38 2.65c-.61.25-1.170.59-1.690.98l-2.49-1c-.23-.09-.49 0-.61.22l-2 3.46c-.13.22-.07.49.12.64l2.11 1.65c-.04.32-.07.65-.07.98s.03.66.07.98l-2.11 1.65c-.19.15-.24.42-.12.64l2 3.46c.12.22.39.3.61.22l2.49-1c.52.4 1.08.73 1.69.98l.38 2.65c.03.24.24.42.49.42h4c.25 0 .46-.18.49-.42l.38-2.65c.61-.25 1.17-.59 1.69-.98l2.49 1c.23.09.49 0 .61-.22l2-3.46c.12-.22.07-.49-.12-.64l-2.11-1.65zM12 15.5c-1.93 0-3.5-1.57-3.5-3.5s1.57-3.5 3.5-3.5 3.5 1.57 3.5 3.5-1.57 3.5-3.5 3.5z"/>
<path transform="translate(56,551.3)" d="M14,2H6C4.9,2,4.01,2.9,4.01,4L4,20c0,1.1,0.89,2,1.99,2H15v-8h5V8L14,2z M13,9V3.5L18.5,9H13z M17,21.66V16h5.66v2h-2.24 l2.95,2.95l-1.41,1.41L19,19.41l0,2.24H17z"/>
</g>
<circle cx="67.9" cy="610.9" r="12" fill="#ece9e4"/>
<ellipse cx="68" cy="607" rx="7" ry="3" fill="#f4f2ee"/>
<path d="M61,609 C63,606 68,605.5 71,607 C73,608 74,611 73,614 C71,617 65,617.5 62.5,615.5 C60.5,613.5 60,611 61,609 Z" fill="#4a4034"/>
<ellipse cx="64.5" cy="608.8" rx="3.2" ry="1.8" fill="#a06a38"/>
<ellipse cx="67" cy="612" rx="2.5" ry="2.8" fill="#28383a"/>
<ellipse cx="70.5" cy="611" rx="1.5" ry="1.5" fill="#6a4a30"/>
<!-- fab lines -->
<g fill="#fff"><rect x="1222.7" y="570.6" width="24.3" height="2.8" rx="1.4"/><rect x="1222.7" y="577.5" width="24.3" height="2.8" rx="1.4"/><rect x="1222.7" y="584.2" width="24.3" height="2.8" rx="1.4"/></g>
<!-- tooltip dots -->
<circle cx="943.4" cy="327.4" r="4" fill="#e8952a"/>
<circle cx="943.4" cy="351.3" r="4" fill="#5b6b88"/>
<circle cx="248" cy="196.4" r="4.6" fill="#9e9e9e"/><rect x="247.3" y="195.5" width="1.4" height="3.4" fill="#fafafa"/><rect x="247.3" y="193.4" width="1.4" height="1.3" fill="#fafafa"/>
<circle cx="407" cy="142.6" r="4.6" fill="#9e9e9e"/><rect x="406.3" y="141.7" width="1.4" height="3.4" fill="#fafafa"/><rect x="406.3" y="139.6" width="1.4" height="1.3" fill="#fafafa"/>
<circle cx="450.7" cy="196.4" r="4.6" fill="#9e9e9e"/><rect x="450.0" y="195.5" width="1.4" height="3.4" fill="#fafafa"/><rect x="450.0" y="193.4" width="1.4" height="1.3" fill="#fafafa"/>
<circle cx="802.9" cy="142.6" r="4.6" fill="#9e9e9e"/><rect x="802.1999999999999" y="141.7" width="1.4" height="3.4" fill="#fafafa"/><rect x="802.1999999999999" y="139.6" width="1.4" height="1.3" fill="#fafafa"/>
<circle cx="972.5" cy="196.4" r="4.6" fill="#9e9e9e"/><rect x="971.8" y="195.5" width="1.4" height="3.4" fill="#fafafa"/><rect x="971.8" y="193.4" width="1.4" height="1.3" fill="#fafafa"/>
<path d="M693.7,141.75 L697.6,145.64999999999998 L701.5,141.75" fill="none" stroke="#444" stroke-width="1.5" stroke-linecap="round" stroke-linejoin="round"/>
<path d="M666,196.42499999999998 L670.35,200.775 L674.7,196.42499999999998" fill="none" stroke="#444" stroke-width="1.5" stroke-linecap="round" stroke-linejoin="round"/>
<path d="M902.5,271.65 L906.8,275.95000000000005 L911.1,271.65" fill="none" stroke="#222" stroke-width="1.5" stroke-linecap="round" stroke-linejoin="round"/>
<g transform="translate(641,268.5)"><rect x="0.8" y="1.6" width="9.6" height="9.6" rx="1.3" fill="none" stroke="#222" stroke-width="1.5"/><rect x="0.8" y="1.6" width="9.6" height="2.6" fill="#222"/><rect x="2.6" y="0" width="1.4" height="2.4" fill="#222"/><rect x="7.2" y="0" width="1.4" height="2.4" fill="#222"/></g>
<text x="553" y="49.1" font-size="13" fill="#ffffff" textLength="223" lengthAdjust="spacingAndGlyphs" stroke="#fff" stroke-width="0.35">CAPITALLY - Explorer | Demo | Capitally</text>
<text x="152.8" y="93.8" font-size="16" fill="#0d1330" font-weight="700" textLength="43.5" lengthAdjust="spacingAndGlyphs">Demo</text>
<text x="145.5" y="148" font-size="14.3" fill="#5c5c5c" textLength="83" lengthAdjust="spacingAndGlyphs">Market Value</text>
<text x="145.5" y="177.7" font-size="24.6" fill="#111" textLength="137" lengthAdjust="spacingAndGlyphs" stroke="#111" stroke-width="0.25">€168,429.89</text>
<text x="145.5" y="201.4" font-size="12.4" fill="#666" textLength="92" lengthAdjust="spacingAndGlyphs">Principal change</text>
<text x="145.5" y="224.3" font-size="17.4" fill="#111" textLength="97" lengthAdjust="spacingAndGlyphs" stroke="#111" stroke-width="0.35">+€19,166.47</text>
<text x="248.3" y="224.3" font-size="15" fill="#9a9a9a" textLength="19.7" lengthAdjust="spacingAndGlyphs">/2y</text>
<text x="347.3" y="148" font-size="14.3" fill="#5c5c5c" textLength="49" lengthAdjust="spacingAndGlyphs">Returns</text>
<text x="347.3" y="177.7" font-size="24" fill="#2a9a3c" textLength="133.7" lengthAdjust="spacingAndGlyphs" stroke="#2a9a3c" stroke-width="0.2">+€29,809.71</text>
<text x="488" y="177.7" font-size="19" fill="#9a9a9a" textLength="25" lengthAdjust="spacingAndGlyphs">/2y</text>
<text x="347.3" y="201.4" font-size="12.4" fill="#666" textLength="93.5" lengthAdjust="spacingAndGlyphs">Realized Returns</text>
<text x="347.3" y="224.3" font-size="17" fill="#2a9a3c" textLength="84.7" lengthAdjust="spacingAndGlyphs" stroke="#2a9a3c" stroke-width="0.3">+€7,142.19</text>
<text x="437.3" y="224.3" font-size="15" fill="#9a9a9a" textLength="19.6" lengthAdjust="spacingAndGlyphs">/2y</text>
<text x="578.2" y="148.6" font-size="14" fill="#5c5c5c" textLength="108" lengthAdjust="spacingAndGlyphs">Return rate (ROI)</text>
<text x="723.5" y="148.6" font-size="14" fill="#5c5c5c" textLength="68.4" lengthAdjust="spacingAndGlyphs">Annual IRR</text>
<text x="578.2" y="178.1" font-size="23.2" fill="#2a9a3c" textLength="92" lengthAdjust="spacingAndGlyphs" stroke="#2a9a3c" stroke-width="0.2">+19.36%</text>
<text x="677.1" y="178.1" font-size="19" fill="#9a9a9a" textLength="25.6" lengthAdjust="spacingAndGlyphs">/2y</text>
<text x="723.5" y="178.1" font-size="22.3" fill="#2a9a3c" textLength="88.4" lengthAdjust="spacingAndGlyphs" stroke="#2a9a3c" stroke-width="0.2">+10.16%</text>
<text x="818.7" y="178.1" font-size="19" fill="#9a9a9a" textLength="25.2" lengthAdjust="spacingAndGlyphs">/2y</text>
<text x="578.2" y="203.8" font-size="12.3" fill="#555" textLength="81.3" lengthAdjust="spacingAndGlyphs">vs MSCI World</text>
<text x="578.2" y="228.7" font-size="17.2" fill="#2a9a3c" textLength="58.6" lengthAdjust="spacingAndGlyphs" stroke="#2a9a3c" stroke-width="0.3">+3.01%</text>
<text x="642.4" y="228.7" font-size="15" fill="#9a9a9a" textLength="19.3" lengthAdjust="spacingAndGlyphs">/2y</text>
<text x="907.7" y="148" font-size="14" fill="#5c5c5c" textLength="30.4" lengthAdjust="spacingAndGlyphs">Fees</text>
<text x="907.7" y="177.7" font-size="23.8" fill="#111" textLength="72.6" lengthAdjust="spacingAndGlyphs" stroke="#111" stroke-width="0.25">€12.00</text>
<text x="987" y="177.7" font-size="19" fill="#9a9a9a" textLength="25.6" lengthAdjust="spacingAndGlyphs">/2y</text>
<text x="907.7" y="201.4" font-size="12.2" fill="#666" textLength="55" lengthAdjust="spacingAndGlyphs">Fees Rate</text>
<text x="907.7" y="224.3" font-size="17" fill="#111" textLength="48" lengthAdjust="spacingAndGlyphs" stroke="#111" stroke-width="0.15">0.01%</text>
<text x="961.3" y="224.3" font-size="15" fill="#9a9a9a" textLength="19.6" lengthAdjust="spacingAndGlyphs">/2y</text>
<text x="136.3" y="279.3" font-size="14" fill="#111" textLength="14.2" lengthAdjust="spacingAndGlyphs" stroke="#111" stroke-width="0.25">1d</text>
<text x="174.9" y="279.3" font-size="14" fill="#111" textLength="16.9" lengthAdjust="spacingAndGlyphs" stroke="#111" stroke-width="0.25">1w</text>
<text x="215.9" y="279.3" font-size="14" fill="#111" textLength="18" lengthAdjust="spacingAndGlyphs" stroke="#111" stroke-width="0.25">1m</text>
<text x="258.3" y="279.3" font-size="14" fill="#111" textLength="20.2" lengthAdjust="spacingAndGlyphs" stroke="#111" stroke-width="0.25">3m</text>
<text x="303.3" y="279.3" font-size="14" fill="#111" textLength="20.3" lengthAdjust="spacingAndGlyphs" stroke="#111" stroke-width="0.25">6m</text>
<text x="346.6" y="279.3" font-size="14" fill="#111" textLength="14.7" lengthAdjust="spacingAndGlyphs" stroke="#111" stroke-width="0.25">1y</text>
<text x="385.6" y="279.3" font-size="14" fill="#111" textLength="15.6" lengthAdjust="spacingAndGlyphs" stroke="#111" stroke-width="0.25">2y</text>
<text x="425.2" y="279.3" font-size="14" fill="#111" textLength="15.7" lengthAdjust="spacingAndGlyphs" stroke="#111" stroke-width="0.25">5y</text>
<text x="465.7" y="279.3" font-size="14" fill="#111" textLength="25.4" lengthAdjust="spacingAndGlyphs" stroke="#111" stroke-width="0.25">max</text>
<text x="508.3" y="279.3" font-size="14" fill="#727272" textLength="26.7" lengthAdjust="spacingAndGlyphs" stroke="#727272" stroke-width="0.15">until</text>
<text x="553.2" y="279.3" font-size="14.5" fill="#111" textLength="79" lengthAdjust="spacingAndGlyphs" stroke="#111" stroke-width="0.2">27/04/2023</text>
<text x="869.8" y="279.3" font-size="13.5" fill="#111" textLength="26" lengthAdjust="spacingAndGlyphs" stroke="#111" stroke-width="0.25">EUR</text>
<text x="932.9" y="279.3" font-size="14" fill="#111" textLength="57.8" lengthAdjust="spacingAndGlyphs" stroke="#111" stroke-width="0.25">Return %</text>
<text x="1016.1" y="279.3" font-size="14" fill="#111" textLength="108.4" lengthAdjust="spacingAndGlyphs" stroke="#111" stroke-width="0.2">Compare returns</text>
<text x="1149.2" y="279.3" font-size="14" fill="#111" textLength="101.4" lengthAdjust="spacingAndGlyphs" stroke="#111" stroke-width="0.2">Compare prices</text>
<text x="152.1" y="387.1" font-size="11" fill="#222" textLength="20.4" lengthAdjust="spacingAndGlyphs">15%</text>
<text x="152.1" y="441.9" font-size="11" fill="#222" textLength="20.4" lengthAdjust="spacingAndGlyphs">10%</text>
<text x="150.6" y="496.3" font-size="11" fill="#222" textLength="15.9" lengthAdjust="spacingAndGlyphs">5%</text>
<text x="150.6" y="551" font-size="11" fill="#222" textLength="16.2" lengthAdjust="spacingAndGlyphs">0%</text>
<text x="232.1" y="600.2" font-size="11.4" fill="#1a1a1a" textLength="19.6" lengthAdjust="spacingAndGlyphs" stroke="#1a1a1a" stroke-width="0.15">July</text>
<text x="360.9" y="600.2" font-size="11.4" fill="#1a1a1a" textLength="38.8" lengthAdjust="spacingAndGlyphs" stroke="#1a1a1a" stroke-width="0.15">October</text>
<text x="506.9" y="600.2" font-size="11.4" fill="#1a1a1a" textLength="24.3" lengthAdjust="spacingAndGlyphs" stroke="#1a1a1a" stroke-width="0.15">2022</text>
<text x="643.5" y="600.2" font-size="11.4" fill="#1a1a1a" textLength="21.4" lengthAdjust="spacingAndGlyphs" stroke="#1a1a1a" stroke-width="0.15">April</text>
<text x="781.6" y="600.2" font-size="11.4" fill="#1a1a1a" textLength="19.6" lengthAdjust="spacingAndGlyphs" stroke="#1a1a1a" stroke-width="0.15">July</text>
<text x="910.2" y="600.2" font-size="11.4" fill="#1a1a1a" textLength="38.8" lengthAdjust="spacingAndGlyphs" stroke="#1a1a1a" stroke-width="0.15">October</text>
<text x="1056.4" y="600.2" font-size="11.4" fill="#1a1a1a" textLength="24.3" lengthAdjust="spacingAndGlyphs" stroke="#1a1a1a" stroke-width="0.15">2023</text>
<text x="1192.9" y="600.2" font-size="11.4" fill="#1a1a1a" textLength="21.4" lengthAdjust="spacingAndGlyphs" stroke="#1a1a1a" stroke-width="0.15">April</text>
<text x="157.4" y="573.9" font-size="10.3" fill="#525d75" textLength="6.0" lengthAdjust="spacingAndGlyphs" stroke="#525d75" stroke-width="0.25">D</text>
<text x="297.5" y="573.9" font-size="10.3" fill="#525d75" textLength="6.0" lengthAdjust="spacingAndGlyphs" stroke="#525d75" stroke-width="0.25">D</text>
<text x="384.9" y="573.9" font-size="10.3" fill="#525d75" textLength="6.0" lengthAdjust="spacingAndGlyphs" stroke="#525d75" stroke-width="0.25">D</text>
<text x="437.6" y="573.9" font-size="10.3" fill="#525d75" textLength="6.0" lengthAdjust="spacingAndGlyphs" stroke="#525d75" stroke-width="0.25">D</text>
<text x="523.2" y="573.9" font-size="10.3" fill="#525d75" textLength="6.0" lengthAdjust="spacingAndGlyphs" stroke="#525d75" stroke-width="0.25">D</text>
<text x="575.7" y="573.9" font-size="10.3" fill="#525d75" textLength="6.0" lengthAdjust="spacingAndGlyphs" stroke="#525d75" stroke-width="0.25">D</text>
<text x="663.2" y="573.9" font-size="10.3" fill="#525d75" textLength="6.0" lengthAdjust="spacingAndGlyphs" stroke="#525d75" stroke-width="0.25">D</text>
<text x="715.9" y="573.9" font-size="10.3" fill="#525d75" textLength="6.0" lengthAdjust="spacingAndGlyphs" stroke="#525d75" stroke-width="0.25">D</text>
<text x="785.7" y="573.9" font-size="10.3" fill="#525d75" textLength="6.0" lengthAdjust="spacingAndGlyphs" stroke="#525d75" stroke-width="0.25">D</text>
<text x="856.3" y="573.9" font-size="10.3" fill="#525d75" textLength="6.0" lengthAdjust="spacingAndGlyphs" stroke="#525d75" stroke-width="0.25">D</text>
<text x="978" y="573.9" font-size="10.3" fill="#525d75" textLength="6.0" lengthAdjust="spacingAndGlyphs" stroke="#525d75" stroke-width="0.25">D</text>
<text x="1065.6" y="573.9" font-size="10.3" fill="#525d75" textLength="6.0" lengthAdjust="spacingAndGlyphs" stroke="#525d75" stroke-width="0.25">D</text>
<text x="1134.5" y="573.9" font-size="10.3" fill="#525d75" textLength="6.0" lengthAdjust="spacingAndGlyphs" stroke="#525d75" stroke-width="0.25">D</text>
<text x="956" y="307.3" font-size="12.6" fill="#333" textLength="39.2" lengthAdjust="spacingAndGlyphs" stroke="#333" stroke-width="0.45">15 Nov</text>
<text x="956" y="331.2" font-size="12.5" fill="#1a1a1a" font-weight="700" textLength="60.2" lengthAdjust="spacingAndGlyphs">Returns %</text>
<text x="1030.1" y="331.2" font-size="12.5" fill="#1a1a1a" font-weight="700" textLength="24.4" lengthAdjust="spacingAndGlyphs">15%</text>
<text x="956" y="355.3" font-size="12.5" fill="#a5a5a5" textLength="65" lengthAdjust="spacingAndGlyphs" stroke="#a5a5a5" stroke-width="0.3">MSCI World</text>
<text x="1037.1" y="355.3" font-size="12.5" fill="#1a1a1a" font-weight="700" textLength="17.4" lengthAdjust="spacingAndGlyphs">6%</text>
</svg>
</body></html>
